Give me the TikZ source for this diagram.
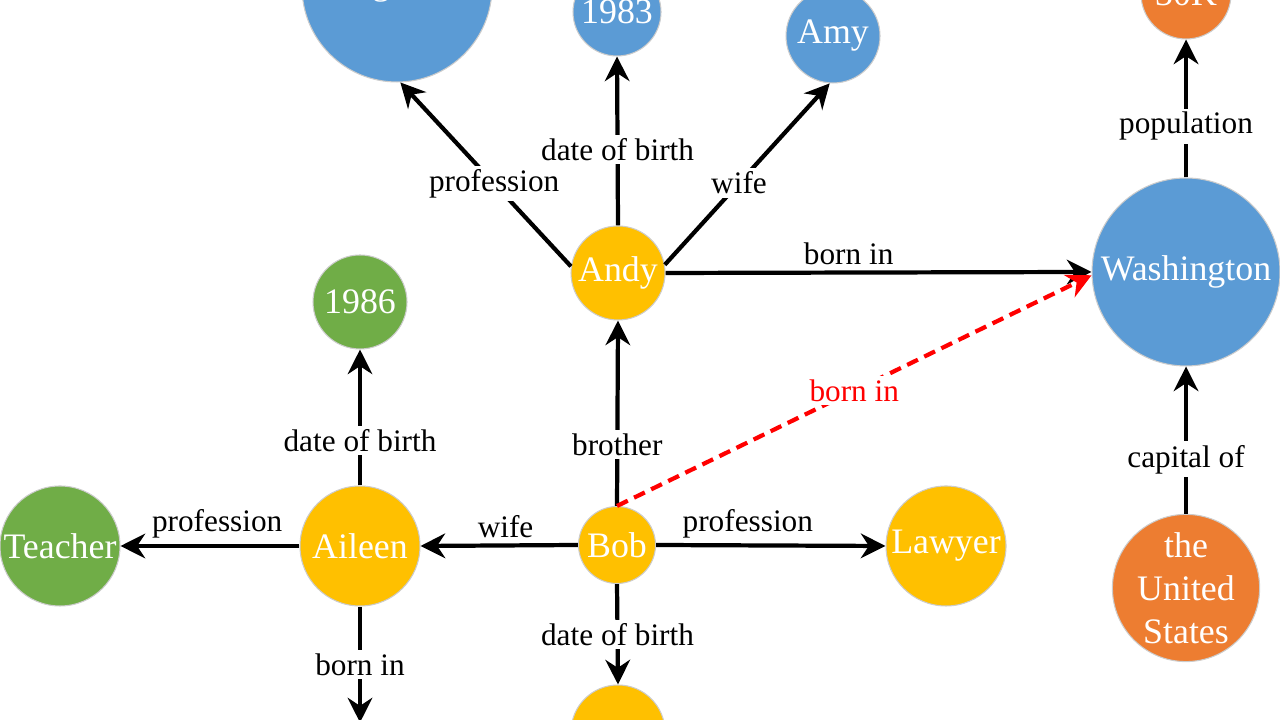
\documentclass[tikz,border=0pt]{standalone}
\usepackage{fontspec}
\setmainfont{Liberation Serif}
\usetikzlibrary{arrows.meta,calc}
\usepackage{tkz-euclide}
\definecolor{PersonClr}{rgb}{1,0.7529,0}
\definecolor{PlaceClr}{rgb}{0.357,0.608,0.835}
\definecolor{CountClr}{rgb}{0.929,0.490,0.192}
\definecolor{AttrClr}{rgb}{0.439,0.678,0.278}

\begin{document}
\begin{tikzpicture}[
  ent/.style={circle,draw=black!20,line width=.3pt,text=white,inner sep=0pt,
    align=center,font=\rmfamily\fontsize{10.2}{12.2}\selectfont},
  rel/.style={line width=1.2pt,-{Stealth[length=7pt,width=7pt]}},
  lbl/.style={fill=white,inner sep=1pt,font=\rmfamily\fontsize{8.9}{10}\selectfont},
  toplbl/.style={above,inner sep=1.5pt,font=\rmfamily\fontsize{8.9}{10}\selectfont},
  guess/.style={rel,red,dash pattern=on 3.4pt off 2pt}]
\useasboundingbox (0,0) rectangle (12.8,7.2);
\clip (0,0) rectangle (12.8,7.2);

\tkzDefPoints{3.97/7.33/pEng,6.17/7.08/pBirthA,8.33/6.84/pAmy,11.86/7.26/pPop,
  6.18/4.47/pAndy,11.86/4.48/pWash,3.60/4.18/pBirthB,3.60/1.74/pAil,
  0.60/1.74/pTea,6.17/1.75/pBob,9.46/1.74/pLaw,11.86/1.32/pUSA,
  6.18/-0.12/pBirthC,3.60/-0.50/pAilBorn}

% entities
\node[ent,fill=PlaceClr,minimum size=1.9cm] (Eng) at (pEng) {Engineer};
\node[ent,fill=PlaceClr,minimum size=.88cm] (BirthA) at (pBirthA) {1983};
\node[ent,fill=PlaceClr,minimum size=.94cm] (Amy) at (pAmy) {Amy};
\node[ent,fill=CountClr,minimum size=.9cm] (Pop) at (pPop) {30K};
\node[ent,fill=PersonClr,minimum size=.94cm] (Andy) at (pAndy) {Andy};
\node[ent,fill=PlaceClr,minimum size=1.88cm] (Wash) at (pWash) {Washington};
\node[ent,fill=AttrClr,minimum size=.94cm] (BirthB) at (pBirthB) {1986};
\node[ent,fill=PersonClr,minimum size=1.2cm] (Ail) at (pAil) {Aileen};
\node[ent,fill=AttrClr,minimum size=1.2cm] (Tea) at (pTea) {Teacher};
\node[ent,fill=PersonClr,minimum size=.77cm] (Bob) at (pBob) {Bob};
\node[ent,fill=PersonClr,minimum size=1.2cm] (Law) at (pLaw) {Lawyer};
\node[ent,fill=CountClr,minimum size=1.4cm] (USA) at (pUSA) {the\\United\\States};
\node[ent,fill=PersonClr,minimum size=.94cm] (BirthC) at (pBirthC) {};
\node[ent,fill=PersonClr,minimum size=.94cm] (AilBorn) at (pAilBorn) {};

% relations
\draw[rel] (Andy.172) -- node[lbl,pos=.45]{profession} (Eng.-88);
\draw[rel] (Andy.north) -- node[lbl,pos=.45]{date of birth} (BirthA.south);
\draw[rel] (Andy.10) -- node[lbl,pos=.45]{wife} (Amy.-94);
\draw[rel] (Andy.east) -- node[toplbl,pos=.43]{born in} (Wash.west);
\draw[rel] (Bob.north) -- node[lbl,pos=.33]{brother} (Andy.south);
\draw[guess] (Bob.north) -- node[lbl,text=red,pos=.5]{born in} (Wash.182);
\draw[rel] (Bob.west) -- node[toplbl,pos=.46]{wife} (Ail.east);
\draw[rel] (Bob.east) -- node[toplbl,pos=.4]{profession} (Law.west);
\draw[rel] (Ail.west) -- node[toplbl,pos=.46]{profession} (Tea.east);
\draw[rel] (Ail.north) -- node[lbl,pos=.33]{date of birth} (BirthB.south);
\draw[rel] (Ail.south) -- node[lbl]{born in} (AilBorn.north);
\draw[rel] (Bob.south) -- node[lbl]{date of birth} (BirthC.north);
\draw[rel] (Wash.north) -- node[lbl,pos=.37]{population} (Pop.south);
\draw[rel] (USA.north) -- node[lbl,pos=.37]{capital of} (Wash.south);

\end{tikzpicture}
\end{document}
